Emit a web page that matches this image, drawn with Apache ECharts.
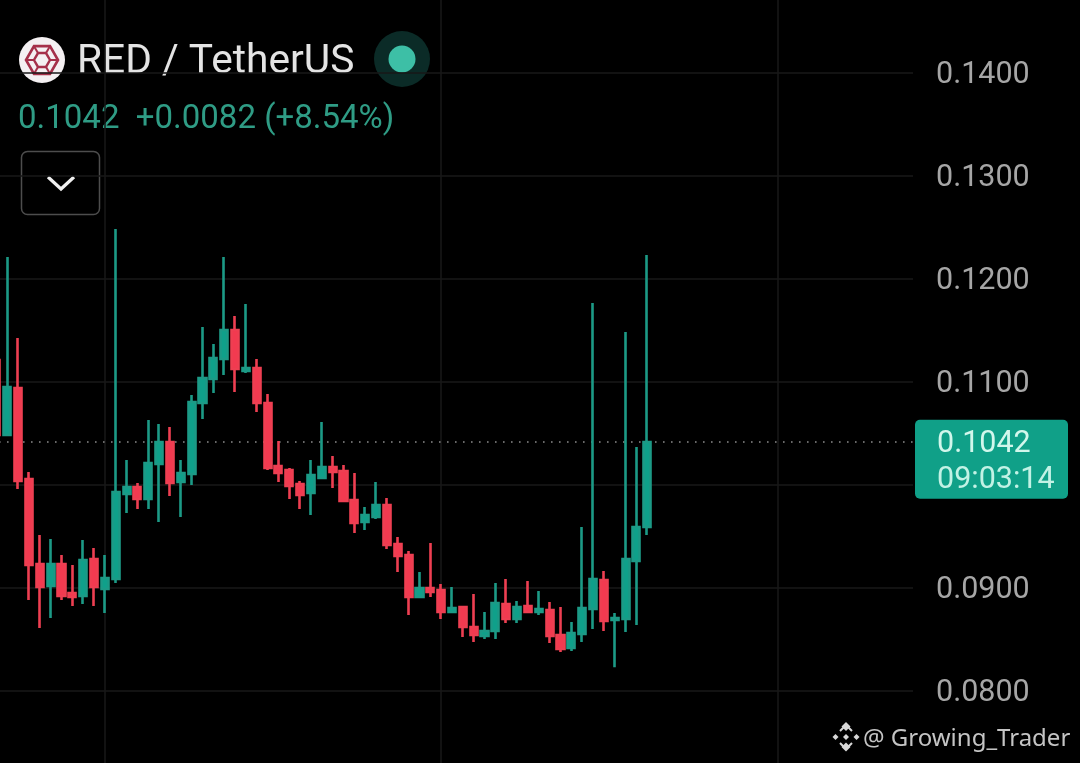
<!DOCTYPE html>
<html><head><meta charset="utf-8">
<style>html,body{margin:0;padding:0;background:#000}#c{width:1080px;height:763px}</style>
<script src="https://cdn.jsdelivr.net/npm/echarts@6/dist/echarts.min.js"></script>
</head><body><div id="c"></div>
<script>
const opens=[.11214,.10486,.10942,.10058,.09233,.09019,.09233,.08951,.08922,.09282,.0899,.09087,.09913,.09981,.09864,.10204,.10418,.10029,.10107,.10796,.11029,.11223,.11505,.11107,.11136,.10796,.10184,.10146,.1001,.09922,.10068,.10175,.10136,.09854,.09641,.09689,.09806,.09427,.0932,.08913,.09,.08981,.08767,.08816,.08621,.08534,.08583,.08845,.08699,.08825,.08767,.08786,.08544,.08417,.08553,.08796,.09078,.08689,.08699,.09262,.09592];
const closes=[.10486,.10951,.10039,.09223,.0901,.09233,.08922,.08913,.09272,.0901,.09097,.09932,.09981,.09864,.10214,.10418,.1002,.10117,.10806,.11039,.11233,.11505,.11126,.11136,.10796,.10165,.10117,.0999,.09903,.10097,.10175,.10126,.09845,.09631,.09709,.09806,.09417,.09311,.08913,.09,.08961,.08767,.08806,.08621,.08544,.08583,.08854,.08699,.08816,.08767,.08796,.08534,.08408,.08563,.08806,.09087,.0868,.08709,.09282,.09592,.10418];
const lows=[.10486,.10486,.09961,.08883,.08612,.08709,.08883,.08825,.08845,.08825,.08757,.09049,.09728,.09767,.09767,.09641,.09893,.09689,.1,.10641,.10893,.11068,.10903,.11087,.10709,.10146,.10029,.09864,.09767,.09709,.10068,.09971,.09835,.09534,.09563,.0967,.09379,.09155,.08738,.08913,.08913,.08699,.08757,.08524,.08476,.08505,.08505,.0866,.0866,.08767,.08738,.08466,.08379,.08388,.08476,.08602,.08583,.0823,.08573,.08641,.09515];
const highs=[.11214,.12214,.11427,.10126,.09515,.09476,.0932,.09223,.09466,.09388,.0932,.12486,.10243,.1002,.10631,.10592,.10563,.10243,.10874,.11534,.11369,.12214,.11641,.11757,.11223,.10884,.10427,.10165,.10039,.10243,.10612,.10282,.10194,.10117,.09786,.10029,.09874,.09495,.09359,.09155,.09437,.09039,.0901,.08816,.08942,.08767,.09049,.09087,.08874,.09068,.08971,.08864,.08816,.0867,.09592,.11767,.09165,.08757,.11486,.10369,.12233];
const slotCount=85;
const slots=Array.from({length:slotCount},(_,i)=>String(i));
const verticalGridSlots=['10','41','72'];
const priceTicks={min:.07,max:.15,interval:.01};
const lastPrice=0.1042;
const countdown='09:03:14';
const titleText='RED / TetherUS';
const changeText='0.1042  +0.0082 (+8.54%)';
const watermark='@ Growing_Trader';

const GREEN='#0fa08a',RED='#f23a50',GRID='#181818',FONT='Roboto';
const candles=opens.map((o,i)=>[o,closes[i],lows[i],highs[i]]);
const chart=echarts.init(document.getElementById('c'),null,{renderer:'canvas'});
const hex=(cx,cy,r)=>Array.from({length:6},(_,i)=>{const a=Math.PI/3*i;return [cx+r*Math.cos(a),cy+r*Math.sin(a)]});
const diamond=(cx,cy,r)=>({type:'polygon',shape:{points:[[cx,cy-r],[cx+r,cy],[cx,cy+r],[cx-r,cy]]},style:{fill:'#d8d8d8'}});
const outer=hex(42,60,16),inner=hex(42,60,8);
const spokes=outer.map((p,i)=>({type:'line',shape:{x1:p[0],y1:p[1],x2:inner[i][0],y2:inner[i][1]},style:{stroke:'#a5304a',lineWidth:2}}));
const chrome=[
 {type:'circle',shape:{cx:42,cy:60,r:23},style:{fill:'#f4f0f2'}},
 {type:'polygon',shape:{points:outer},style:{fill:'none',stroke:'#a5304a',lineWidth:2.6}},
 {type:'polygon',shape:{points:inner},style:{fill:'none',stroke:'#a5304a',lineWidth:2.4}},
 ...spokes,
 {type:'text',style:{x:77,y:63,text:titleText,fill:'#e4e4e4',font:'40.7px '+FONT,textVerticalAlign:'middle'}},
 {type:'circle',shape:{cx:402,cy:59,r:28},style:{fill:'#0b2b27'}},
 {type:'circle',shape:{cx:402,cy:59,r:13.5},style:{fill:'#3dbfa6'}},
 {type:'text',style:{x:18,y:120,text:changeText,fill:'#2f9c85',font:'33px '+FONT,textVerticalAlign:'middle'}},
 {type:'rect',shape:{x:21.5,y:151.5,width:78,height:63,r:6},style:{fill:'#000',stroke:'#4d4d4d',lineWidth:1.5}},
 {type:'polyline',shape:{points:[[48,177],[61,189],[74,177]]},style:{fill:'none',stroke:'#f0f0f0',lineWidth:3.2}},
 diamond(846,726.5,4.5),diamond(846,747,4.5),diamond(835.5,737,3),diamond(856.5,737,3),diamond(846,737,3),
 {type:'polyline',shape:{points:[[840,731],[846,725],[852,731]]},style:{fill:'none',stroke:'#d8d8d8',lineWidth:2}},
 {type:'polyline',shape:{points:[[840,743],[846,749],[852,743]]},style:{fill:'none',stroke:'#d8d8d8',lineWidth:2}},
 {type:'text',style:{x:863,y:739,text:watermark,fill:'#c4c4c4',font:'24px "Noto Sans"',textVerticalAlign:'middle'}}
];
chart.setOption({
 animation:false,backgroundColor:'#000',
 grid:{left:-9,width:922,top:-30,bottom:-31,containLabel:false,outerBoundsMode:'none'},
 xAxis:{type:'category',data:slots,boundaryGap:true,axisLine:{show:false},axisTick:{show:false},axisLabel:{show:false},splitLine:{show:false}},
 yAxis:{type:'value',position:'right',min:priceTicks.min,max:priceTicks.max,interval:priceTicks.interval,scale:true,
  axisLine:{show:false},axisTick:{show:false},
  axisLabel:{margin:23,color:'#a6a6a6',fontFamily:FONT,fontSize:30.5,formatter:v=>'{p|'+v.toFixed(4)+'}',
   rich:{p:{color:'#a6a6a6',fontFamily:FONT,fontSize:30.5,padding:[5,0,0,0]}}},
  splitLine:{show:true,lineStyle:{color:GRID,width:1.5}}},
 series:[{type:'candlestick',data:candles,barWidth:7.6,z:3,clip:false,
  itemStyle:{color:GREEN,color0:RED,borderColor:'#1c9a86',borderColor0:'#ee3f52',borderWidth:2.6},
  markLine:{silent:true,symbol:'none',animation:false,z:1,precision:4,label:{show:false},
   data:[...verticalGridSlots.map(s=>({xAxis:s,lineStyle:{color:GRID,width:1.5,type:'solid'}})),
         {yAxis:lastPrice,lineStyle:{color:'#8a8a8a',width:1.6,type:[1.6,6.4]}}]}}],
 graphic:chrome
});
const py=chart.convertToPixel({yAxisIndex:0},lastPrice);
chart.setOption({graphic:chrome.concat([
 {type:'rect',z:50,shape:{x:915,y:py-22,width:153,height:79,r:5},style:{fill:'#10a088'}},
 {type:'text',z:51,style:{x:937,y:py+3,text:lastPrice.toFixed(4),fill:'#d2f7ec',font:'30.5px '+FONT,textVerticalAlign:'middle'}},
 {type:'text',z:51,style:{x:937,y:py+39,text:countdown,fill:'#c2f2e5',font:'30.5px '+FONT,textVerticalAlign:'middle'}}
])});
</script></body></html>
